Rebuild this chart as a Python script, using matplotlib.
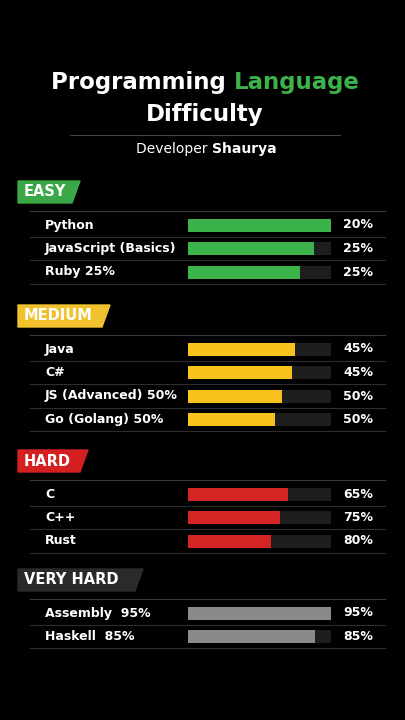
import matplotlib
matplotlib.use("Agg")
import matplotlib.pyplot as plt
from matplotlib.patches import Polygon

plt.rcParams['font.family'] = ['DejaVu Sans']

groups = ["EASY", "MEDIUM", "HARD", "VERY HARD"]
group_colors = ["#3aa845", "#f2c12e", "#d42020", "#2a2a2a"]
bar_colors = ["#3cb34a", "#f7c21b", "#d42424", "#8a8a8a"]
labels = [
    ["Python", "JavaScript (Basics)", "Ruby 25%"],
    ["Java", "C#", "JS (Advanced) 50%", "Go (Golang) 50%"],
    ["C", "C++", "Rust"],
    ["Assembly  95%", "Haskell  85%"],
]
percents = [[20, 25, 25], [45, 45, 50, 50], [65, 75, 80], [95, 85]]
fills = [[1.0, 0.88, 0.78], [0.75, 0.73, 0.66, 0.61], [0.70, 0.64, 0.58], [1.0, 0.89]]

fig = plt.figure(figsize=(4.05, 7.2), dpi=100, facecolor="black")
ax = fig.add_axes([0, 0, 1, 1])
ax.set_facecolor("black")
ax.set_xlim(0, 405)
ax.set_ylim(720, 0)
ax.axis("off")

ax.text(234, 83, "Programming ", color="white", fontsize=16.5, fontweight="bold", ha="right", va="center")
ax.text(234, 83, "Language", color="#3cb34a", fontsize=16.5, fontweight="bold", ha="left", va="center")
ax.text(205, 114, "Difficulty", color="white", fontsize=16.5, fontweight="bold", ha="center", va="center")
ax.plot([70, 340], [135, 135], color="#444444", lw=0.8)
ax.text(212, 149, "Developer ", color="white", fontsize=10, ha="right", va="center")
ax.text(212, 149, "Shaurya", color="white", fontsize=10, fontweight="bold", ha="left", va="center")

header_y = [192, 316, 461, 580]
header_w = [62, 92, 70, 125]
row_step = 23.5
bx0, bw = 188, 143
for g in range(4):
    hy = header_y[g]
    w = header_w[g]
    ax.add_patch(Polygon([[18, hy - 11], [18 + w, hy - 11], [18 + w - 8, hy + 11], [18, hy + 11]],
                         closed=True, color=group_colors[g]))
    ax.text(24, hy, groups[g], color="white", fontsize=10.5, fontweight="bold", va="center")
    ax.plot([30, 385], [hy + 19, hy + 19], color="#3a3a3a", lw=0.8)
    for i, (lab, p, f) in enumerate(zip(labels[g], percents[g], fills[g])):
        y = hy + 33 + i * row_step
        ax.text(45, y, lab, color="white", fontsize=9, fontweight="bold", va="center")
        ax.barh(y, bw, left=bx0, height=13, color="#1e1e1e")
        ax.barh(y, bw * f, left=bx0, height=13, color=bar_colors[g])
        ax.text(373, y, f"{p}%", color="white", fontsize=9, fontweight="bold", va="center", ha="right")
        ax.plot([30, 385], [y + 11.5, y + 11.5], color="#2e2e2e", lw=0.8)

fig.savefig("out.png", dpi=100, facecolor="black")
